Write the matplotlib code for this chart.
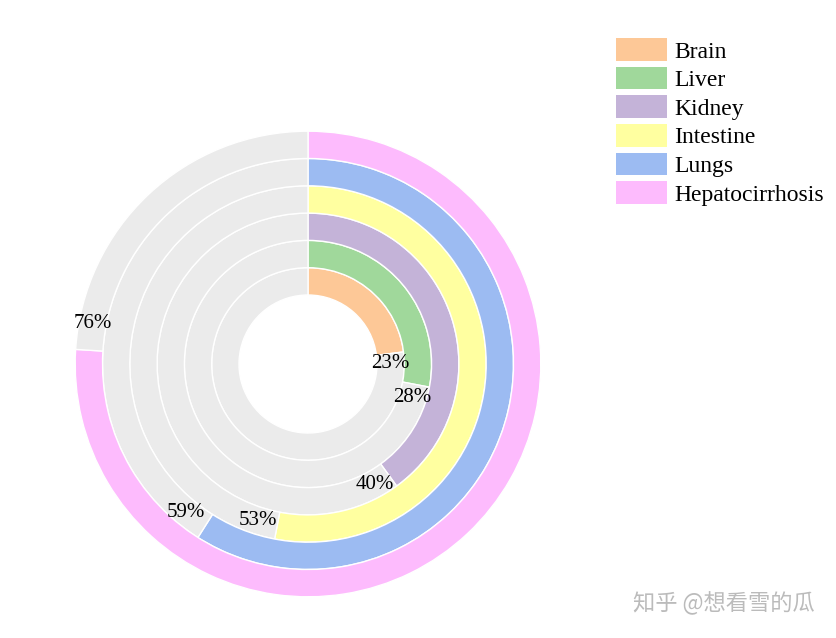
import numpy as np
import matplotlib
matplotlib.use("Agg")
import matplotlib.pyplot as plt
from matplotlib.patches import Patch

categories = ["Brain", "Liver", "Kidney", "Intestine", "Lungs", "Hepatocirrhosis"]
values = [23, 28, 40, 53, 59, 76]
colors = ["#FDC897", "#A0D89B", "#C4B3D8", "#FFFFA0", "#9CBBF2", "#FDBBFD"]
grey = "#EBEBEB"

plt.rcParams['font.family'] = ['Liberation Serif', 'DejaVu Serif']
fig = plt.figure(figsize=(8.36, 6.38), dpi=100)
ax = fig.add_axes([0, 0, 1, 1])
cx, cy = 308, -364
r0, w = 69, 27.3
for i, (v, c) in enumerate(zip(values, colors)):
    R = r0 + w * (i + 1)
    ax.pie([v, 100 - v], colors=[c, grey], startangle=90, counterclock=False,
           radius=R, center=(cx, cy), frame=True,
           wedgeprops=dict(width=w, edgecolor="white", linewidth=1))
    rm = R - w / 2
    ang = np.deg2rad(90 - v * 3.6 - 7)
    ax.text(cx + rm * np.cos(ang), cy + rm * np.sin(ang), f"{v}%",
            ha="center", va="center", fontsize=15, color="black")
ax.set_xlim(0, 836)
ax.set_ylim(-638, 0)
ax.set_aspect("equal")
ax.axis("off")

handles = [Patch(facecolor=c, edgecolor="none") for c in colors]
fig.legend(handles, categories, loc="upper left", bbox_to_anchor=(0.725, 0.955),
           frameon=False, fontsize=17, handlelength=2.2, handleheight=1.1,
           labelspacing=0.18, handletextpad=0.3, borderaxespad=0)
fig.text(0.975, 0.035, "知乎 @想看雪的瓜", ha="right", va="bottom", fontsize=16,
         color="#BBBBBB", family=["Noto Sans CJK SC", "DejaVu Sans"])
fig.savefig("out.png", dpi=100)
